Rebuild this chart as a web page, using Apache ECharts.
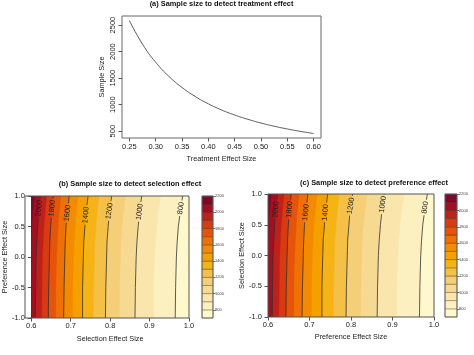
<!DOCTYPE html>
<html><head><meta charset="utf-8">
<script src="https://cdn.jsdelivr.net/npm/echarts@6/dist/echarts.min.js"></script>
<style>html,body{margin:0;padding:0;background:#fff}#c{width:474px;height:355px}</style>
</head><body><div id="c"></div>
<script>
// ---------- (a) Sample size to detect treatment effect ----------
const treatmentEffectSize = [0.25,0.275,0.30,0.325,0.35,0.375,0.40,0.425,0.45,0.475,0.50,0.525,0.55,0.575,0.60];
const treatmentSampleSize = [2586,2139,1799,1534,1324,1155,1016,901,805,724,654,594,542,497,457];
const treatmentXTicks = [0.25,0.30,0.35,0.40,0.45,0.50,0.55,0.60];
const sampleSizeTicks = [500,1000,1500,2000,2500];

// ---------- (b)/(c) contour maps (symmetric: same surface) ----------
const otherEffectSize = [-1, -0.5, 0, 0.25, 0.5, 0.75, 1];
const bandLevels = [800,900,1000,1100,1200,1300,1400,1500,1600,1700,1800,1900,2000,2100];
const isolineEffectSize = [
  [0.965,0.966,0.968,0.970,0.973,0.978,0.984], // 800
  [0.910,0.910,0.913,0.915,0.918,0.922,0.928], // 900
  [0.863,0.864,0.866,0.868,0.871,0.875,0.880], // 1000
  [0.823,0.824,0.826,0.827,0.830,0.834,0.839], // 1100
  [0.788,0.789,0.791,0.792,0.795,0.798,0.804], // 1200
  [0.757,0.758,0.760,0.761,0.764,0.767,0.772], // 1300
  [0.730,0.730,0.732,0.733,0.736,0.739,0.744], // 1400
  [0.705,0.705,0.707,0.709,0.711,0.714,0.719], // 1500
  [0.682,0.683,0.685,0.686,0.688,0.692,0.696], // 1600
  [0.662,0.662,0.664,0.666,0.668,0.671,0.675], // 1700
  [0.643,0.644,0.646,0.647,0.649,0.652,0.656], // 1800
  [0.626,0.627,0.628,0.630,0.632,0.635,0.639], // 1900
  [0.610,0.611,0.612,0.614,0.616,0.619,0.623], // 2000
  [0.596,0.596,0.598,0.599,0.601,0.604,0.608]  // 2100
];
const contourLineLevels = [800,1000,1200,1400,1600,1800,2000];
const keyLevels = [700,800,900,1000,1100,1200,1300,1400,1500,1600,1700,1800,1900,2000,2100,2200];
const keyTicks = [800,1000,1200,1400,1600,1800,2000,2200];
const effectXTicks = [0.6,0.7,0.8,0.9,1.0];
const effectYTicks = [-1,-0.5,0,0.5,1];

// ---------- styles ----------
const FF = "'Liberation Sans', Arial, Helvetica, sans-serif";
const bandColors = ['#fff8cc','#fcefc0','#fae6ac','#f7da92','#f4cf78','#f4c045','#f5b315',
  '#f6a000','#f48a00','#ef7004','#e6540c','#d83a12','#c0201a','#a30f20','#7d0a2a'];
const labelYB = [0.80,0.74,0.755,0.69,0.72,0.80,0.80];
const labelYC = [0.78,0.83,0.81,0.70,0.70,0.75,0.75];
const TXT = '#222', TICKFS = 7.5, NAMEFS = 7.3;

function xAxisCfg(gi, min, max, ticks, dec, name, margin, gap) {
  return {gridIndex: gi, type: 'value', min, max, name, nameLocation: 'middle', nameGap: gap,
    nameTextStyle: {fontSize: NAMEFS, fontFamily: FF, color: TXT},
    axisLine: {show: false, onZero: false}, splitLine: {show: false},
    axisTick: {show: true, length: 3.5, customValues: ticks, lineStyle: {color: '#555', width: 1}},
    axisLabel: {customValues: ticks, margin, fontSize: TICKFS, fontFamily: FF, color: TXT,
      formatter: v => Number(v).toFixed(dec)}};
}
function yAxisCfg(gi, min, max, ticks, dec, name, margin, gap, rot) {
  const c = xAxisCfg(gi, min, max, ticks, dec, name, margin, gap);
  c.axisLabel.rotate = rot || 0;
  return c;
}
function bandSeries(i) {
  return {type: 'custom', xAxisIndex: i, yAxisIndex: i, silent: true, z: 2, clip: true,
    data: bandLevels.map(l => [l]),
    renderItem(params, api) {
      const k = params.dataIndex, c = params.coordSys, row = isolineEffectSize[k];
      const clampX = x => Math.max(c.x, Math.min(c.x + c.width, x));
      const pts = otherEffectSize.map((y, j) => { const p = api.coord([row[j], y]); return [clampX(p[0]), p[1]]; });
      pts.push([c.x, c.y], [c.x, c.y + c.height]);
      const col = bandColors[k + 1];
      return {type: 'polygon', shape: {points: pts}, style: {fill: col, stroke: col, lineWidth: 0.4}};
    }};
}
function contourSeries(i, labelYs) {
  return {type: 'custom', xAxisIndex: i, yAxisIndex: i, silent: true, z: 4, clip: true,
    data: contourLineLevels.map(l => [l]),
    renderItem(params, api) {
      const idx = params.dataIndex, level = contourLineLevels[idx];
      const row = isolineEffectSize[bandLevels.indexOf(level)];
      const pts = otherEffectSize.map((y, j) => api.coord([row[j], y]));
      const at = yy => {
        for (let k = 0; k < pts.length - 1; k++) {
          const a = pts[k], b = pts[k + 1];
          if (yy <= a[1] && yy >= b[1]) {
            const t = (a[1] - yy) / (a[1] - b[1]);
            return {p: [a[0] + t * (b[0] - a[0]), yy], ang: Math.atan2(a[1] - b[1], b[0] - a[0])};
          }
        }
        return {p: [pts[0][0], yy], ang: Math.PI / 2};
      };
      const cy = api.coord([0.8, labelYs[idx]])[1];
      const mid = at(cy);
      const txt = String(level);
      const half = txt.length * 0.556 * TICKFS / 2 + 1.5;
      const yLow = cy + half, yHigh = cy - half;
      const seg1 = pts.filter(p => p[1] >= yLow); seg1.push(at(yLow).p);
      const seg2 = [at(yHigh).p].concat(pts.filter(p => p[1] <= yHigh));
      const ls = {stroke: '#333', lineWidth: 0.8, fill: null};
      return {type: 'group', children: [
        {type: 'polyline', shape: {points: seg1}, style: ls},
        {type: 'polyline', shape: {points: seg2}, style: ls},
        {type: 'text', x: mid.p[0], y: cy, rotation: mid.ang,
          style: {text: txt, fontSize: TICKFS, fontFamily: FF, fill: TXT, align: 'center', verticalAlign: 'middle'}}
      ]};
    }};
}
function keySeries(i) {
  return {type: 'custom', xAxisIndex: i, yAxisIndex: i, silent: true, z: 3, clip: false,
    data: keyLevels.slice(0, -1).map((l, k) => [l, keyLevels[k + 1]]),
    renderItem(params, api) {
      const k = params.dataIndex;
      const p0 = api.coord([0, keyLevels[k]]), p1 = api.coord([1, keyLevels[k + 1]]);
      return {type: 'rect', shape: {x: p0[0], y: p1[1], width: p1[0] - p0[0], height: p0[1] - p1[1]},
        style: {fill: bandColors[k], stroke: 'rgba(0,0,0,0.45)', lineWidth: 0.6}};
    }};
}
function keyYAxis(gi) {
  return {gridIndex: gi, type: 'value', min: 700, max: 2200, position: 'right',
    axisLine: {show: false, onZero: false}, splitLine: {show: false},
    axisTick: {show: true, length: 2.5, customValues: keyTicks, lineStyle: {color: '#555', width: 0.8}},
    axisLabel: {customValues: keyTicks, margin: 2, fontSize: 4, fontFamily: FF, color: '#444',
      formatter: v => String(v)}};
}
function keyXAxis(gi) { return {gridIndex: gi, type: 'value', min: 0, max: 1, show: false, axisLine: {onZero: false}}; }

// plot rectangles; frame overlays reuse them
const rects = [
  {left: 122, top: 16, width: 199, height: 122},
  {left: 25, top: 196, width: 164, height: 122},
  {left: 268, top: 194, width: 166, height: 123},
  {left: 202, top: 196, width: 11, height: 122},
  {left: 445, top: 194, width: 12, height: 123}
];
const frameColors = ['#666', '#555', '#555', '#666', '#666'];
const grids = rects.map((r, i) => Object.assign({}, r, i === 1 || i === 2 ?
  {show: true, backgroundColor: bandColors[0], borderWidth: 0} : {}));
rects.forEach((r, i) => grids.push(Object.assign({}, r,
  {show: true, z: 10, backgroundColor: 'transparent', borderColor: frameColors[i], borderWidth: 1})));

const titleStyle = {fontSize: 7.4, fontWeight: 'bold', fontFamily: FF, color: '#111'};
const option = {
  animation: false,
  backgroundColor: '#fff',
  title: [
    {text: '(a) Sample size to detect treatment effect', left: 221.5, top: 0, textAlign: 'center', padding: 0, textStyle: titleStyle},
    {text: '(b) Sample size to detect selection effect', left: 130, top: 180, textAlign: 'center', padding: 0, textStyle: titleStyle},
    {text: '(c) Sample size to detect preference effect', left: 374, top: 179, textAlign: 'center', padding: 0, textStyle: titleStyle}
  ],
  grid: grids,
  xAxis: [
    xAxisCfg(0, 0.236, 0.614, treatmentXTicks, 2, 'Treatment Effect Size', 4.8, 17),
    xAxisCfg(1, 0.6, 1.0, effectXTicks, 1, 'Selection Effect Size', 4, 17),
    xAxisCfg(2, 0.6, 1.0, effectXTicks, 1, 'Preference Effect Size', 3.8, 16.7),
    keyXAxis(3), keyXAxis(4)
  ],
  yAxis: [
    yAxisCfg(0, 372, 2671, sampleSizeTicks, 0, 'Sample Size', 5.4, 17, 90),
    yAxisCfg(1, -1, 1, effectYTicks, 1, 'Preference Effect Size', 6.5, 17),
    yAxisCfg(2, -1, 1, effectYTicks, 1, 'Selection Effect Size', 6, 16.7),
    keyYAxis(3), keyYAxis(4)
  ],
  series: [
    {type: 'line', xAxisIndex: 0, yAxisIndex: 0, smooth: true, showSymbol: false, silent: true,
      data: treatmentEffectSize.map((x, i) => [x, treatmentSampleSize[i]]),
      lineStyle: {color: '#4a4a4a', width: 0.9}},
    bandSeries(1), contourSeries(1, labelYB),
    bandSeries(2), contourSeries(2, labelYC),
    keySeries(3), keySeries(4)
  ]
};
const chart = echarts.init(document.getElementById('c'), null, {renderer: 'canvas'});
chart.setOption(option);
</script></body></html>
